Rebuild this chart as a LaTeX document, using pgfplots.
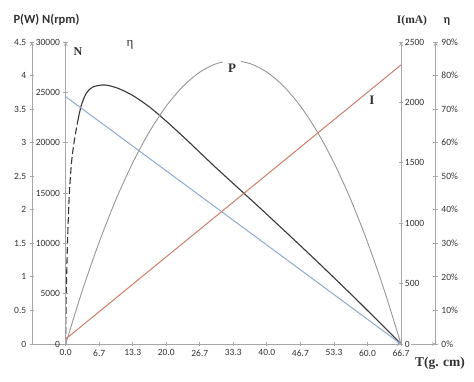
\documentclass[border=0pt]{standalone}
\usepackage{pgfplots}
\pgfplotsset{compat=1.18}
\usepackage{fontspec}
\setmainfont{Carlito}
\newfontfamily\serifb{Liberation Serif}
\definecolor{axgray}{RGB}{166,166,166}
\definecolor{nblue}{RGB}{140,170,205}
\definecolor{ired}{RGB}{205,125,105}
\definecolor{pgray}{RGB}{150,150,150}
\definecolor{etablack}{RGB}{55,55,55}
\definecolor{txt}{RGB}{50,50,50}
\pgfplotsset{
 base/.style={scale only axis, height=302pt, ymin=0, anchor=south west,
  axis line style={-, draw=axgray, line width=0.8pt},
  major tick style={draw=axgray, line width=0.8pt},
  major tick length=4.5pt, tick align=outside,
  tick label style={font=\fontsize{9.5}{10}\selectfont, text=txt},
  scaled y ticks=false, scaled x ticks=false,
  /pgf/number format/assume math mode=true,
  clip=false,
 },
}
\begin{document}
\begin{tikzpicture}
\path[use as bounding box] (0pt,0pt) rectangle (474pt,382pt);
% efficiency axis (outer right)
\begin{axis}[base, at={(65.7pt,38pt)}, width=370pt, xmin=0, xmax=73.6, ymax=90,
  axis x line=bottom, axis y line=right, xtick=\empty,
  ytick={0,10,20,30,40,50,60,70,80,90},
  yticklabels={0\%,10\%,20\%,30\%,40\%,50\%,60\%,70\%,80\%,90\%}]
\addplot[etablack, line width=1.1pt, dash pattern=on 7pt off 3pt, smooth, tension=0.4] coordinates {
 (0,0) (0.1,14) (0.35,30) (0.7,44) (1.15,54) (1.7,60.5) (2.45,66.8)};
\addplot[etablack, line width=1.1pt, smooth, tension=0.5] coordinates {
 (2.45,66.8) (3.12,71.2) (4.12,74.8) (5.43,76.6) (7.76,77.2) (10.4,76.2)
 (13.4,74.0) (16.7,70.6) (20.0,66.4) (24.3,60.5) (29.7,52.8) (38.6,40.6)
 (48.6,26.6) (57.6,13.6) (66.7,0)};
\end{axis}
% power axis (outer left) with T axis
\begin{axis}[base, at={(32pt,38pt)}, width=369pt, xmin=-6.7, xmax=66.7, ymax=4.5,
  axis x line=bottom, axis y line=left,
  xtick={0,6.67,13.34,20.01,26.68,33.35,40.02,46.69,53.36,60.03,66.7},
  xticklabels={0.0,6.7,13.3,20.0,26.7,33.3,40.0,46.7,53.3,60.0,66.7},
  ytick={0,0.5,1,1.5,2,2.5,3,3.5,4,4.5},
  yticklabels={0,0.5,1,1.5,2,2.5,3,3.5,4,4.5}]
\addplot[pgray, line width=0.9pt, smooth] coordinates {
 (0,0) (3.335,0.802) (6.67,1.519) (10.0,2.152) (13.34,2.701) (16.675,3.165)
 (20.01,3.545) (23.345,3.840) (26.68,4.051) (30.015,4.178) (33.35,4.220)
 (36.685,4.178) (40.02,4.051) (43.355,3.840) (46.69,3.545) (50.025,3.165)
 (53.36,2.701) (56.7,2.152) (60.03,1.519) (63.365,0.802) (66.7,0)};
\end{axis}
% speed axis (inner left)
\begin{axis}[base, at={(65.7pt,38pt)}, width=335.3pt, xmin=0, xmax=66.7, ymax=30000,
  axis x line=none, axis y line=left,
  ytick={0,5000,10000,15000,20000,25000,30000},
  yticklabels={0,5000,10000,15000,20000,25000,30000}]
\addplot[nblue, line width=1pt] coordinates {(0,24570) (66.7,0)};
\end{axis}
% current axis (inner right)
\begin{axis}[base, at={(65.7pt,38pt)}, width=335.3pt, xmin=0, xmax=66.7, ymax=2500,
  axis x line=none, axis y line=right,
  yticklabel style={fill=white, inner xsep=1.5pt},
  ytick={0,500,1000,1500,2000,2500},
  yticklabels={0,500,1000,1500,2000,2500}]
\addplot[ired, line width=1pt] coordinates {(0,41) (66.7,2310)};
\end{axis}
% labels
\node[font=\serifb\bfseries\fontsize{12}{12}\selectfont, text=txt] at (78pt,330pt) {N};
\node[font=\serifb\fontsize{13}{13}\selectfont, text=txt] at (130pt,337pt) {η};
\node[fill=white, inner xsep=5pt, minimum height=18pt, font=\serifb\bfseries\fontsize{13}{13}\selectfont, text=txt] at (232pt,314pt) {P};
\node[font=\serifb\bfseries\fontsize{13}{13}\selectfont, text=txt] at (372pt,282pt) {I};
\node[font=\bfseries\fontsize{12.5}{13}\selectfont, text=txt] at (46.5pt,362pt) {P(W) N(rpm)};
\node[font=\serifb\bfseries\fontsize{11.5}{12}\selectfont, text=txt] at (412pt,361pt) {I(mA)};
\node[font=\bfseries\fontsize{12}{12}\selectfont, text=txt] at (447pt,361pt) {η};
\node[font=\serifb\bfseries\fontsize{13.5}{14}\selectfont, text=txt] at (440pt,19pt) {T(g. cm)};
\end{tikzpicture}
\end{document}
